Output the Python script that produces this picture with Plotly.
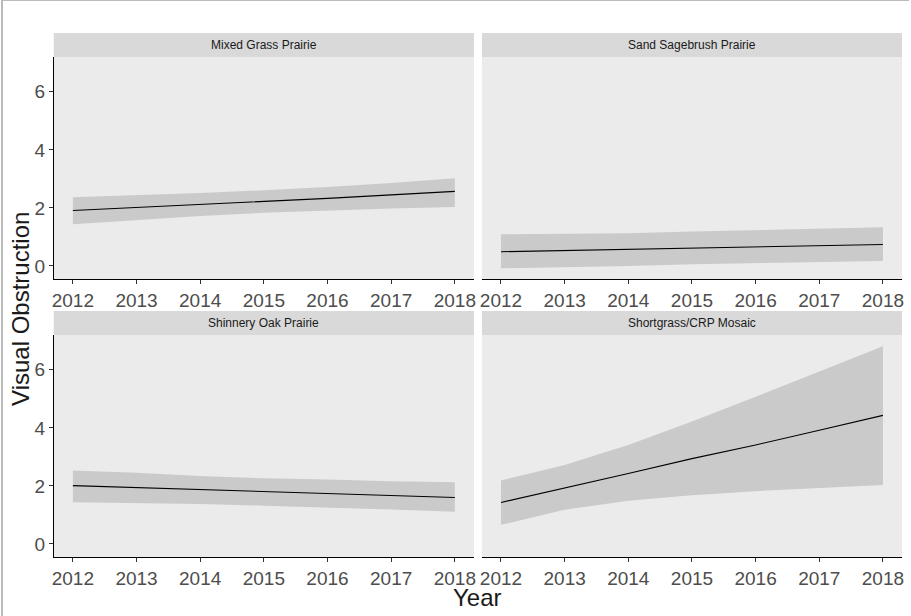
import plotly.graph_objects as go

# Fitted visual obstruction trends (with confidence band) per ecoregion
years = [2012, 2013, 2014, 2015, 2016, 2017, 2018]
panels = ["Mixed Grass Prairie", "Sand Sagebrush Prairie",
          "Shinnery Oak Prairie", "Shortgrass/CRP Mosaic"]

mixed_fit = [1.91, 2.01, 2.11, 2.21, 2.33, 2.45, 2.57]
mixed_hi = [2.37, 2.43, 2.51, 2.61, 2.72, 2.86, 3.02]
mixed_lo = [1.44, 1.58, 1.72, 1.83, 1.91, 1.98, 2.03]

sand_fit = [0.49, 0.53, 0.57, 0.62, 0.66, 0.70, 0.74]
sand_hi = [1.09, 1.10, 1.13, 1.19, 1.23, 1.28, 1.33]
sand_lo = [-0.08, -0.05, 0.00, 0.06, 0.10, 0.13, 0.17]

shinnery_fit = [2.01, 1.94, 1.87, 1.80, 1.74, 1.67, 1.60]
shinnery_hi = [2.53, 2.45, 2.34, 2.26, 2.22, 2.16, 2.13]
shinnery_lo = [1.44, 1.42, 1.38, 1.32, 1.26, 1.19, 1.11]

short_fit = [1.43, 1.92, 2.43, 2.94, 3.41, 3.92, 4.43]
short_hi = [2.19, 2.72, 3.41, 4.22, 5.07, 5.95, 6.81]
short_lo = [0.66, 1.18, 1.49, 1.68, 1.82, 1.92, 2.03]

y_ticks = [0, 2, 4, 6]

W, H = 911, 616
PANEL_BG = "#EBEBEB"
STRIP_BG = "#D9D9D9"
BAND = "#CACACA"
FONT = "Liberation Sans, Arial"

series = [
    (mixed_fit, mixed_lo, mixed_hi),
    (sand_fit, sand_lo, sand_hi),
    (shinnery_fit, shinnery_lo, shinnery_hi),
    (short_fit, short_lo, short_hi),
]

# pixel boxes of the plotting areas: (left, right, top, bottom)
cols = [(52, 474), (482, 904)]
rows = [(57, 279), (335, 557)]


def px_x(v):
    return v / W


def px_y(v):
    return (H - v) / H


fig = go.Figure()
shapes = []
annotations = []

for i, (fit, lo, hi) in enumerate(series):
    r, c = divmod(i, 2)
    n = i + 1
    xa = "x" if n == 1 else f"x{n}"
    ya = "y" if n == 1 else f"y{n}"

    fig.add_trace(go.Scatter(x=years, y=hi, xaxis=xa, yaxis=ya, mode="lines",
                             line=dict(width=0), hoverinfo="skip", showlegend=False))
    fig.add_trace(go.Scatter(x=years, y=lo, xaxis=xa, yaxis=ya, mode="lines",
                             line=dict(width=0), fill="tonexty", fillcolor=BAND,
                             hoverinfo="skip", showlegend=False))
    fig.add_trace(go.Scatter(x=years, y=fit, xaxis=xa, yaxis=ya, mode="lines",
                             line=dict(color="black", width=1.1), showlegend=False))

    left, right = cols[c]
    top, bottom = rows[r]
    xkey = "xaxis" if n == 1 else f"xaxis{n}"
    ykey = "yaxis" if n == 1 else f"yaxis{n}"
    fig.update_layout({
        xkey: dict(domain=[px_x(left), px_x(right)], anchor=ya,
                   range=[2011.7, 2018.3], tickvals=years,
                   showgrid=False, zeroline=False,
                   showline=True, linecolor="black", linewidth=1,
                   ticks="outside", ticklen=4, tickcolor="#333333",
                   tickfont=dict(family=FONT, size=19, color="#4D4D4D")),
        ykey: dict(domain=[px_y(bottom), px_y(top)], anchor=xa,
                   range=[-0.45, 7.2], tickvals=y_ticks,
                   showgrid=False, zeroline=False,
                   showline=(c == 0), linecolor="black", linewidth=1,
                   ticks="outside" if c == 0 else "", ticklen=4, tickcolor="#333333",
                   showticklabels=(c == 0),
                   tickfont=dict(family=FONT, size=19, color="#4D4D4D")),
    })

    # panel background and strip
    shapes.append(dict(type="rect", xref="paper", yref="paper", layer="below",
                       x0=px_x(left), x1=px_x(right), y0=px_y(bottom), y1=px_y(top),
                       fillcolor=PANEL_BG, line=dict(width=0)))
    shapes.append(dict(type="rect", xref="paper", yref="paper", layer="below",
                       x0=px_x(left), x1=px_x(right), y0=px_y(top), y1=px_y(top - 24),
                       fillcolor=STRIP_BG, line=dict(width=0)))
    annotations.append(dict(text=panels[i], xref="paper", yref="paper",
                            x=px_x((left + right) / 2), y=px_y(top - 12),
                            showarrow=False, xanchor="center", yanchor="middle",
                            font=dict(family=FONT, size=12, color="#1A1A1A")))

# window border seen at the top and left edges
shapes.append(dict(type="line", xref="paper", yref="paper", x0=0, x1=1, y0=1, y1=1,
                   line=dict(color="#BBBBBB", width=2)))
shapes.append(dict(type="line", xref="paper", yref="paper", x0=0, x1=0, y0=0, y1=1,
                   line=dict(color="#BBBBBB", width=2)))

annotations.append(dict(text="Visual Obstruction", xref="paper", yref="paper",
                        x=px_x(18), y=px_y(309), textangle=-90, showarrow=False,
                        xanchor="center", yanchor="middle",
                        font=dict(family=FONT, size=24, color="#1A1A1A")))
annotations.append(dict(text="Year", xref="paper", yref="paper",
                        x=px_x(478), y=px_y(597), showarrow=False,
                        xanchor="center", yanchor="middle",
                        font=dict(family=FONT, size=24, color="#1A1A1A")))

fig.update_layout(
    width=W, height=H,
    margin=dict(l=0, r=0, t=0, b=0),
    paper_bgcolor="white", plot_bgcolor="rgba(0,0,0,0)",
    shapes=shapes, annotations=annotations,
    showlegend=False,
)

# drop the browser's default body margin so the figure sits at the window corner
fig.write_html("out.html", config={"displayModeBar": False},
               post_script="document.body.style.margin='0';")
